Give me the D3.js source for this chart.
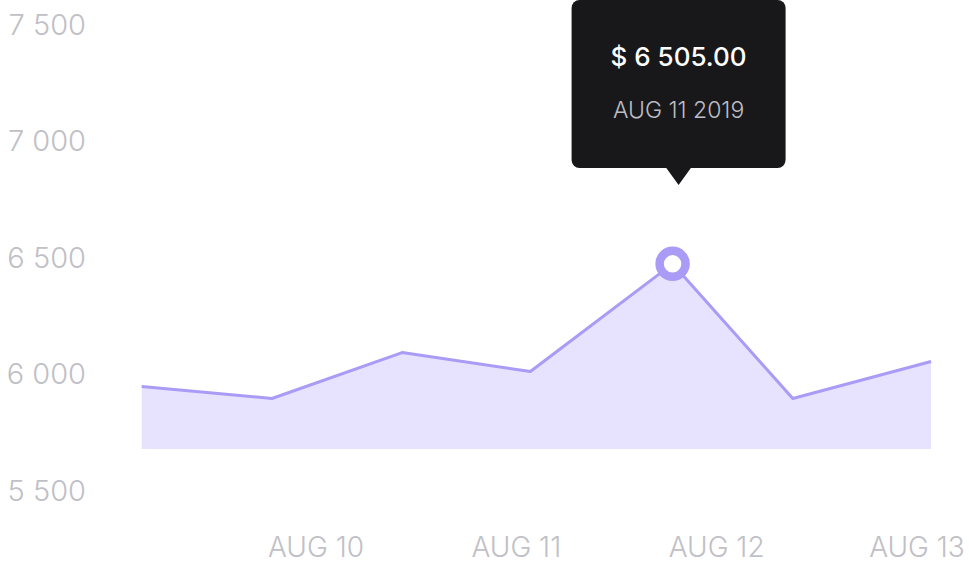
<!DOCTYPE html>
<html><head><meta charset="utf-8">
<script src="https://cdn.jsdelivr.net/npm/d3@7"></script>
<style>
html,body{margin:0;padding:0;background:#fff;}
svg{display:block;font-family:"Inter","Lato",sans-serif;}
</style></head>
<body>
<svg id="chart" width="969" height="567"></svg>
<script>
// ---- data ----
const dayPositions = [9.13, 9.78, 10.43, 11.07, 11.78, 12.38, 13.07];
const prices = [5979, 5927, 6124, 6043, 6505, 5927, 6086];
const areaBase = 5710;
const yTicks = [5500, 6000, 6500, 7000, 7500];
const xTickDays = [10, 11, 12, 13];
const xTickLabels = ["AUG 10", "AUG 11", "AUG 12", "AUG 13"];
const highlightIndex = 4;
const tooltipValue = "$ 6 505.00";
const tooltipDate = "AUG 11 2019";

const svg = d3.select("#chart");
const x = d3.scaleLinear().domain([10, 13]).range([316, 917]);
const y = d3.scaleLinear().domain([5500, 7500]).range([498, 32]);

const data = prices.map((v, i) => ({d: dayPositions[i], v}));

const fmt = v => d3.format(",")(v).replace(/,/g, " ");

// y labels
svg.append("g").selectAll("text").data(yTicks).join("text")
  .attr("x", 86).attr("y", d => y(d) - 8)
  .attr("text-anchor", "end").attr("dominant-baseline", "central")
  .attr("fill", "#c0c0c6").attr("font-size", 29).attr("font-weight", 300)
  .text(fmt);

// x labels
svg.append("g").selectAll("text").data(xTickDays).join("text")
  .attr("x", d => x(d)).attr("y", 557)
  .attr("text-anchor", "middle")
  .attr("fill", "#c0c0c6").attr("font-size", 28).attr("font-weight", 300)
  .text((d, i) => xTickLabels[i]);

// area
svg.append("path").datum(data)
  .attr("fill", "#e7e2fe")
  .attr("d", d3.area().x(d => x(d.d)).y0(y(areaBase)).y1(d => y(d.v)));

// line
svg.append("path").datum(data)
  .attr("fill", "none").attr("stroke", "#a99bf6").attr("stroke-width", 3)
  .attr("stroke-linejoin", "round")
  .attr("d", d3.line().x(d => x(d.d)).y(d => y(d.v)));

// highlight marker
const hp = data[highlightIndex];
svg.append("circle")
  .attr("cx", x(hp.d)).attr("cy", y(hp.v)).attr("r", 13)
  .attr("fill", "#fff").attr("stroke", "#a99bf6").attr("stroke-width", 8.5);

// tooltip
const tcx = x(hp.d) + 6;
const tw = 214, th = 168;
const tg = svg.append("g");
tg.append("rect")
  .attr("x", tcx - tw / 2).attr("y", 0).attr("width", tw).attr("height", th)
  .attr("rx", 8).attr("fill", "#18181a");
tg.append("path")
  .attr("d", `M${tcx - 13},${th - 1} L${tcx},${th + 17} L${tcx + 13},${th - 1} Z`)
  .attr("fill", "#18181a");
tg.append("text")
  .attr("x", tcx).attr("y", 66).attr("text-anchor", "middle")
  .attr("fill", "#ffffff").attr("font-size", 26).attr("font-weight", 500)
  .text(tooltipValue);
tg.append("text")
  .attr("x", tcx).attr("y", 118).attr("text-anchor", "middle")
  .attr("fill", "#bdbdc4").attr("font-size", 23).attr("font-weight", 300)
  .text(tooltipDate);
</script>
</body></html>
